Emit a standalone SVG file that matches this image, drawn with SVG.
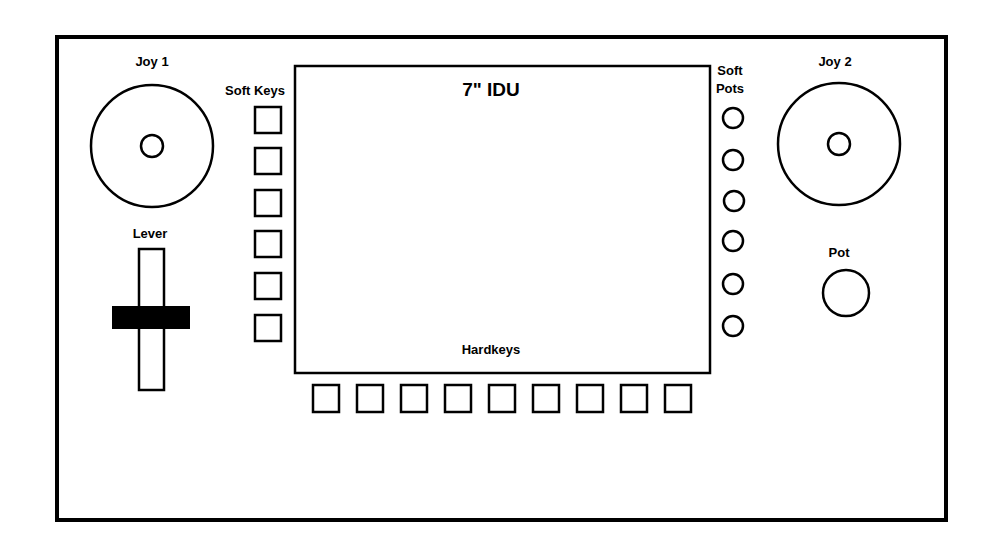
<svg xmlns="http://www.w3.org/2000/svg" width="1000" height="558" viewBox="0 0 1000 558">
<style>
.s{fill:#fff;stroke:#000;stroke-width:2.5}
.t{font-family:"Liberation Sans",Arial,sans-serif;font-weight:bold;font-size:13px;text-anchor:middle;fill:#000}
</style>
<rect width="1000" height="558" fill="#fff"/>
<rect id="panel" x="57" y="37" width="889" height="483" fill="none" stroke="#000" stroke-width="4"/>
<g id="joy1"><circle class="s" cx="152" cy="146" r="61"/><circle class="s" cx="152" cy="146" r="11"/><text class="t" x="152" y="66">Joy 1</text></g>
<g id="lever"><rect class="s" x="139" y="249" width="25" height="141"/><rect x="112" y="306" width="78" height="23" fill="#000"/><text class="t" x="150" y="238">Lever</text></g>
<g id="softkeys"><text class="t" x="255" y="95">Soft Keys</text>
<rect class="s" x="255" y="107" width="26" height="26"/><rect class="s" x="255" y="148" width="26" height="26"/><rect class="s" x="255" y="190" width="26" height="26"/><rect class="s" x="255" y="231" width="26" height="26"/><rect class="s" x="255" y="273" width="26" height="26"/><rect class="s" x="255" y="315" width="26" height="26"/></g>
<g id="idu"><rect class="s" x="295" y="66" width="415" height="307"/><text class="t" x="491" y="96" style="font-size:19px">7" IDU</text><text class="t" x="491" y="354">Hardkeys</text></g>
<g id="hardkeys">
<rect class="s" x="313" y="385" width="26" height="27"/><rect class="s" x="357" y="385" width="26" height="27"/><rect class="s" x="401" y="385" width="26" height="27"/><rect class="s" x="445" y="385" width="26" height="27"/><rect class="s" x="489" y="385" width="26" height="27"/><rect class="s" x="533" y="385" width="26" height="27"/><rect class="s" x="577" y="385" width="26" height="27"/><rect class="s" x="621" y="385" width="26" height="27"/><rect class="s" x="665" y="385" width="26" height="27"/></g>
<g id="softpots"><text class="t" x="730" y="75">Soft</text><text class="t" x="730" y="93">Pots</text>
<circle class="s" cx="733" cy="118" r="10"/><circle class="s" cx="733" cy="160" r="10"/><circle class="s" cx="734" cy="201" r="10"/><circle class="s" cx="733" cy="241" r="10"/><circle class="s" cx="733" cy="284" r="10"/><circle class="s" cx="733" cy="326" r="10"/></g>
<g id="joy2"><circle class="s" cx="839" cy="144" r="61"/><circle class="s" cx="839" cy="144" r="11"/><text class="t" x="835" y="66">Joy 2</text></g>
<g id="pot"><circle class="s" cx="846" cy="293" r="23"/><text class="t" x="839" y="257">Pot</text></g>
</svg>
